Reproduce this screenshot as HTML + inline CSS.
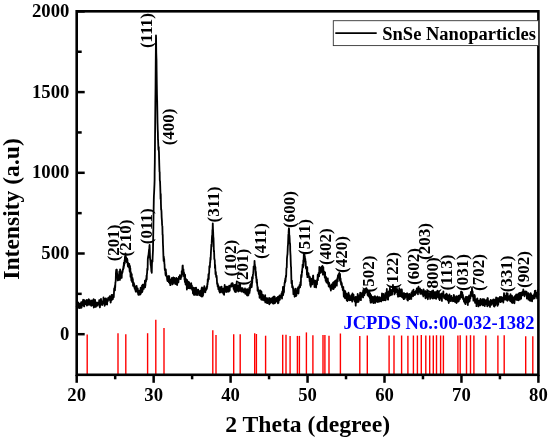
<!DOCTYPE html>
<html><head><meta charset="utf-8"><style>
html,body{margin:0;padding:0;background:#fff;}
body{width:550px;height:439px;overflow:hidden;}
svg{display:block;font-family:"Liberation Serif","Times New Roman",serif;font-weight:bold;}
</style></head><body>
<svg width="550" height="439" viewBox="0 0 550 439">
<rect x="0" y="0" width="550" height="439" fill="#fff"/>
<g stroke="#ff0000" stroke-width="1.4"><line x1="87.2" y1="374.8" x2="87.2" y2="334.5"/><line x1="118" y1="374.8" x2="118" y2="333.2"/><line x1="125.8" y1="374.8" x2="125.8" y2="334.2"/><line x1="147.6" y1="374.8" x2="147.6" y2="333.2"/><line x1="155.8" y1="374.8" x2="155.8" y2="319.8"/><line x1="164" y1="374.8" x2="164" y2="328.1"/><line x1="212.8" y1="374.8" x2="212.8" y2="330.3"/><line x1="216" y1="374.8" x2="216" y2="335.1"/><line x1="233.7" y1="374.8" x2="233.7" y2="334.3"/><line x1="240.2" y1="374.8" x2="240.2" y2="334.3"/><line x1="254.7" y1="374.8" x2="254.7" y2="333.3"/><line x1="256.4" y1="374.8" x2="256.4" y2="334"/><line x1="265.6" y1="374.8" x2="265.6" y2="335.7"/><line x1="282.7" y1="374.8" x2="282.7" y2="334.8"/><line x1="286" y1="374.8" x2="286" y2="334.8"/><line x1="290.1" y1="374.8" x2="290.1" y2="335.9"/><line x1="297.4" y1="374.8" x2="297.4" y2="335.9"/><line x1="299.4" y1="374.8" x2="299.4" y2="335.9"/><line x1="306.4" y1="374.8" x2="306.4" y2="332.4"/><line x1="312.9" y1="374.8" x2="312.9" y2="335.2"/><line x1="323" y1="374.8" x2="323" y2="335"/><line x1="324.9" y1="374.8" x2="324.9" y2="335"/><line x1="329" y1="374.8" x2="329" y2="335.7"/><line x1="340.4" y1="374.8" x2="340.4" y2="333.5"/><line x1="359.8" y1="374.8" x2="359.8" y2="335.9"/><line x1="367.3" y1="374.8" x2="367.3" y2="335.5"/><line x1="389.1" y1="374.8" x2="389.1" y2="335.5"/><line x1="394" y1="374.8" x2="394" y2="335.5"/><line x1="401.6" y1="374.8" x2="401.6" y2="335.5"/><line x1="407.9" y1="374.8" x2="407.9" y2="335.8"/><line x1="413.4" y1="374.8" x2="413.4" y2="335.5"/><line x1="417.4" y1="374.8" x2="417.4" y2="335.5"/><line x1="421.3" y1="374.8" x2="421.3" y2="335"/><line x1="425.8" y1="374.8" x2="425.8" y2="335.5"/><line x1="429.7" y1="374.8" x2="429.7" y2="335.5"/><line x1="433.3" y1="374.8" x2="433.3" y2="335.5"/><line x1="436.5" y1="374.8" x2="436.5" y2="335.2"/><line x1="440.6" y1="374.8" x2="440.6" y2="335.5"/><line x1="443.4" y1="374.8" x2="443.4" y2="335.5"/><line x1="457.9" y1="374.8" x2="457.9" y2="335.5"/><line x1="460.2" y1="374.8" x2="460.2" y2="335.2"/><line x1="466.5" y1="374.8" x2="466.5" y2="335.5"/><line x1="470.5" y1="374.8" x2="470.5" y2="335.2"/><line x1="473.9" y1="374.8" x2="473.9" y2="335.5"/><line x1="485.8" y1="374.8" x2="485.8" y2="335.5"/><line x1="497.9" y1="374.8" x2="497.9" y2="335.5"/><line x1="504.2" y1="374.8" x2="504.2" y2="335.2"/><line x1="525.7" y1="374.8" x2="525.7" y2="336.2"/><line x1="532.8" y1="374.8" x2="532.8" y2="336.2"/></g>
<path d="M76.70,305.99 L76.88,307.47 L77.06,304.53 L77.24,305.91 L77.42,308.36 L77.60,306.73 L77.78,302.84 L77.96,307.83 L78.14,302.68 L78.32,302.52 L78.50,306.57 L78.68,305.81 L78.86,306.46 L79.04,306.58 L79.22,306.85 L79.40,308.08 L79.58,304.94 L79.76,305.36 L79.94,304.62 L80.00,303.59 L80.12,303.83 L80.30,305.86 L80.48,305.40 L80.66,307.84 L80.84,304.93 L81.02,303.44 L81.20,302.07 L81.38,306.58 L81.56,307.73 L81.74,305.49 L81.92,305.92 L82.10,303.39 L82.28,302.61 L82.46,303.40 L82.64,301.48 L82.82,304.79 L83.00,300.44 L83.18,299.76 L83.36,304.38 L83.54,305.97 L83.72,302.53 L83.90,303.92 L84.08,300.21 L84.26,306.38 L84.44,302.32 L84.62,304.49 L84.80,300.51 L84.98,302.44 L85.16,302.27 L85.34,304.24 L85.52,303.01 L85.70,302.84 L85.88,302.81 L86.06,304.05 L86.24,302.44 L86.42,303.74 L86.60,300.88 L86.78,299.94 L86.90,305.48 L86.96,301.71 L87.14,300.84 L87.32,304.09 L87.50,304.85 L87.68,302.53 L87.86,304.84 L88.04,304.35 L88.22,302.26 L88.40,302.36 L88.58,299.58 L88.76,299.20 L88.94,304.69 L89.12,304.53 L89.30,302.60 L89.48,304.09 L89.66,300.05 L89.84,303.53 L90.02,304.96 L90.20,302.62 L90.38,303.30 L90.56,301.57 L90.74,304.64 L90.92,301.31 L91.10,303.77 L91.28,305.83 L91.46,300.73 L91.64,301.14 L91.82,303.60 L92.00,305.52 L92.18,300.28 L92.36,303.68 L92.54,302.25 L92.72,303.79 L92.90,304.73 L93.08,300.60 L93.26,304.42 L93.44,304.07 L93.62,299.24 L93.80,307.49 L93.98,306.20 L94.16,305.18 L94.34,303.70 L94.52,301.44 L94.70,301.95 L94.88,306.87 L95.06,299.82 L95.24,306.59 L95.42,304.59 L95.60,304.63 L95.78,306.10 L95.96,306.82 L96.14,302.37 L96.32,303.12 L96.50,305.84 L96.68,303.04 L96.86,304.29 L97.04,305.41 L97.22,302.62 L97.40,303.16 L97.58,305.56 L97.76,303.00 L97.80,305.72 L97.94,302.77 L98.12,304.66 L98.30,303.34 L98.48,303.94 L98.66,302.57 L98.84,304.15 L99.02,304.05 L99.20,300.06 L99.38,303.82 L99.56,303.58 L99.74,303.85 L99.92,307.42 L100.10,303.92 L100.28,305.81 L100.46,302.60 L100.64,299.36 L100.82,302.74 L101.00,298.81 L101.18,302.20 L101.36,303.78 L101.54,301.82 L101.72,301.24 L101.90,303.63 L102.00,302.89 L102.08,304.12 L102.26,305.05 L102.44,301.24 L102.62,303.69 L102.80,303.85 L102.98,302.96 L103.16,301.20 L103.34,300.17 L103.52,297.42 L103.70,301.20 L103.88,302.35 L104.06,298.57 L104.24,302.30 L104.42,299.99 L104.60,305.74 L104.78,301.81 L104.96,305.24 L105.14,302.16 L105.32,300.32 L105.50,302.70 L105.68,298.43 L105.86,298.44 L106.04,300.16 L106.22,299.97 L106.40,304.07 L106.50,300.46 L106.58,300.82 L106.76,299.25 L106.94,299.36 L107.12,304.55 L107.30,300.51 L107.48,299.51 L107.66,299.43 L107.84,301.26 L108.02,299.33 L108.20,297.83 L108.38,297.65 L108.56,298.58 L108.74,297.82 L108.92,299.49 L109.10,299.10 L109.28,297.42 L109.46,298.67 L109.64,296.99 L109.82,296.24 L110.00,300.19 L110.18,298.09 L110.36,299.63 L110.54,302.15 L110.72,302.54 L110.90,300.32 L111.08,300.74 L111.26,298.88 L111.44,300.44 L111.62,294.96 L111.80,296.13 L111.98,298.03 L112.00,296.07 L112.16,296.80 L112.34,296.88 L112.52,296.71 L112.70,294.99 L112.88,299.24 L113.06,297.38 L113.24,297.52 L113.42,294.56 L113.50,294.39 L113.60,296.87 L113.78,297.10 L113.96,292.99 L114.14,288.62 L114.32,290.08 L114.50,289.24 L114.68,286.99 L114.86,288.03 L115.00,290.32 L115.04,285.16 L115.22,287.50 L115.40,282.30 L115.58,282.28 L115.76,279.69 L115.94,272.99 L116.12,270.88 L116.30,269.60 L116.48,274.14 L116.66,271.60 L116.84,269.63 L117.02,272.81 L117.20,274.41 L117.38,276.17 L117.56,277.26 L117.74,280.46 L117.92,276.58 L118.00,280.24 L118.10,276.24 L118.28,275.84 L118.46,277.08 L118.64,279.85 L118.82,276.66 L119.00,275.40 L119.18,273.68 L119.36,271.33 L119.54,271.35 L119.70,273.49 L119.72,274.77 L119.90,279.93 L120.08,269.38 L120.26,273.88 L120.44,278.52 L120.62,272.58 L120.80,275.24 L120.98,274.08 L121.16,274.91 L121.34,275.18 L121.40,272.41 L121.52,275.95 L121.70,277.88 L121.88,273.16 L122.06,271.52 L122.24,273.28 L122.42,270.58 L122.60,272.12 L122.78,269.70 L122.96,268.99 L123.14,269.63 L123.32,267.69 L123.50,266.00 L123.68,268.10 L123.86,262.68 L124.04,266.09 L124.22,263.34 L124.40,263.61 L124.58,260.21 L124.76,263.53 L124.94,256.74 L125.12,257.54 L125.30,256.03 L125.40,256.50 L125.48,253.44 L125.66,255.89 L125.84,257.35 L126.02,259.63 L126.20,257.37 L126.38,259.89 L126.56,261.63 L126.74,261.97 L126.92,261.44 L127.10,258.61 L127.28,261.55 L127.46,259.79 L127.50,262.00 L127.64,263.60 L127.82,265.28 L128.00,266.64 L128.18,262.90 L128.36,265.11 L128.54,266.82 L128.72,264.16 L128.90,265.57 L129.08,267.96 L129.26,263.80 L129.40,268.00 L129.44,266.01 L129.62,270.83 L129.80,271.73 L129.98,266.02 L130.16,271.48 L130.34,268.32 L130.52,276.80 L130.70,275.46 L130.88,272.03 L131.06,275.35 L131.24,278.75 L131.42,280.78 L131.60,275.99 L131.78,274.23 L131.80,278.02 L131.96,278.33 L132.14,282.00 L132.32,280.15 L132.50,277.79 L132.68,280.01 L132.86,279.39 L133.04,285.77 L133.22,281.88 L133.40,282.25 L133.58,282.52 L133.76,285.04 L133.94,284.38 L134.12,283.88 L134.30,287.11 L134.48,285.59 L134.60,285.46 L134.66,288.65 L134.84,287.72 L135.02,286.59 L135.20,287.61 L135.38,290.11 L135.56,288.46 L135.74,291.65 L135.92,287.68 L136.10,289.17 L136.28,290.26 L136.46,287.59 L136.64,285.98 L136.82,290.28 L137.00,287.98 L137.18,290.19 L137.30,290.17 L137.36,289.88 L137.54,292.52 L137.72,288.38 L137.90,290.39 L138.08,292.58 L138.26,294.80 L138.44,292.94 L138.62,294.32 L138.70,294.06 L138.80,294.84 L138.98,291.05 L139.16,292.78 L139.34,290.71 L139.52,291.89 L139.70,290.82 L139.88,290.47 L140.06,294.69 L140.24,291.63 L140.42,294.24 L140.60,287.76 L140.78,291.92 L140.90,293.52 L140.96,291.99 L141.14,291.31 L141.32,290.38 L141.50,291.85 L141.68,289.39 L141.86,291.63 L142.04,285.38 L142.22,292.06 L142.40,291.37 L142.58,290.30 L142.76,284.72 L142.94,288.55 L143.12,288.63 L143.30,288.02 L143.48,287.17 L143.66,284.65 L143.70,288.85 L143.84,286.73 L144.02,287.94 L144.20,284.26 L144.38,286.59 L144.56,286.46 L144.74,285.88 L144.92,280.55 L145.10,287.34 L145.28,285.54 L145.46,285.25 L145.50,280.15 L145.64,281.72 L145.82,280.89 L146.00,281.66 L146.18,278.75 L146.36,279.81 L146.54,275.59 L146.72,279.50 L146.90,273.98 L147.08,273.29 L147.26,268.66 L147.44,268.67 L147.62,269.88 L147.80,259.19 L147.98,257.68 L148.16,256.28 L148.20,258.00 L148.34,255.41 L148.52,254.83 L148.70,253.09 L148.88,251.29 L149.06,249.43 L149.24,250.54 L149.40,246.50 L149.42,246.29 L149.60,244.92 L149.78,250.23 L149.96,255.43 L150.14,259.22 L150.32,259.92 L150.50,262.00 L150.68,264.92 L150.86,263.33 L151.04,267.09 L151.22,268.67 L151.40,271.37 L151.58,268.51 L151.76,272.75 L151.94,264.78 L152.12,260.13 L152.30,262.00 L152.48,261.60 L152.66,256.49 L152.84,253.31 L153.00,250.00 L153.02,248.90 L153.20,236.46 L153.38,226.95 L153.56,213.11 L153.74,203.65 L153.80,200.00 L153.92,195.78 L154.10,192.85 L154.28,188.66 L154.46,184.45 L154.60,180.00 L154.64,172.51 L154.82,162.25 L155.00,141.19 L155.18,121.44 L155.20,120.00 L155.36,103.36 L155.54,88.22 L155.60,80.00 L155.72,64.84 L155.90,45.63 L156.00,35.50 L156.08,38.55 L156.26,52.64 L156.44,58.28 L156.50,60.00 L156.62,71.14 L156.80,84.29 L156.98,94.87 L157.10,100.00 L157.16,100.44 L157.34,111.11 L157.52,122.78 L157.60,125.00 L157.70,129.26 L157.88,132.65 L158.00,140.00 L158.06,139.28 L158.24,144.23 L158.42,149.65 L158.60,147.63 L158.78,147.03 L158.80,150.00 L158.96,152.29 L159.14,159.60 L159.32,166.04 L159.50,171.76 L159.68,172.03 L159.80,180.00 L159.86,180.79 L160.04,181.13 L160.22,186.07 L160.40,191.41 L160.58,199.04 L160.76,193.93 L160.94,203.72 L161.12,209.60 L161.30,209.67 L161.48,211.47 L161.66,217.21 L161.84,219.69 L162.00,222.00 L162.02,223.74 L162.20,225.63 L162.38,226.34 L162.56,234.82 L162.74,234.66 L162.92,243.09 L163.00,245.00 L163.10,246.64 L163.28,252.23 L163.46,257.14 L163.64,260.93 L163.70,258.70 L163.82,256.68 L164.00,260.80 L164.18,258.88 L164.36,263.36 L164.54,264.38 L164.72,268.60 L164.90,270.02 L165.00,269.60 L165.08,270.63 L165.26,269.95 L165.44,273.67 L165.62,275.23 L165.80,269.46 L165.98,273.49 L166.16,272.82 L166.34,275.65 L166.52,276.62 L166.70,276.54 L166.88,277.14 L167.06,276.95 L167.10,279.11 L167.24,278.95 L167.42,281.04 L167.60,279.93 L167.78,278.18 L167.96,276.34 L168.14,276.06 L168.32,279.33 L168.50,279.86 L168.68,278.06 L168.86,282.28 L169.04,280.00 L169.22,276.24 L169.40,280.61 L169.58,279.23 L169.76,281.81 L169.80,283.60 L169.94,281.51 L170.12,279.92 L170.30,285.10 L170.48,282.39 L170.66,285.02 L170.84,281.36 L171.02,281.12 L171.20,279.08 L171.38,281.37 L171.56,281.90 L171.74,280.07 L171.92,277.78 L172.10,279.43 L172.28,280.77 L172.46,281.24 L172.64,284.41 L172.82,281.84 L173.00,281.38 L173.18,281.47 L173.36,277.29 L173.54,283.03 L173.72,280.54 L173.90,279.71 L174.08,279.48 L174.26,277.91 L174.44,282.33 L174.62,278.57 L174.80,282.70 L174.98,282.06 L175.16,284.04 L175.34,281.55 L175.52,281.57 L175.70,278.30 L175.88,281.98 L176.06,284.02 L176.24,281.13 L176.42,277.98 L176.60,280.17 L176.78,280.26 L176.96,278.75 L177.14,285.00 L177.32,281.56 L177.40,283.35 L177.50,282.12 L177.68,282.53 L177.86,282.55 L178.04,278.90 L178.22,280.81 L178.40,282.47 L178.58,280.04 L178.76,276.98 L178.94,277.22 L179.12,278.47 L179.30,277.64 L179.40,277.38 L179.48,278.03 L179.66,278.95 L179.84,275.21 L180.02,275.69 L180.20,276.89 L180.38,276.42 L180.56,277.47 L180.74,279.17 L180.92,275.80 L181.10,275.11 L181.28,275.40 L181.46,275.90 L181.64,276.76 L181.70,271.10 L181.82,274.78 L182.00,272.36 L182.18,271.93 L182.36,269.44 L182.54,265.77 L182.72,265.53 L182.80,265.50 L182.90,268.50 L183.08,271.11 L183.26,269.79 L183.44,269.36 L183.62,274.78 L183.70,275.98 L183.80,273.23 L183.98,272.49 L184.16,276.79 L184.34,275.27 L184.52,279.82 L184.70,277.59 L184.88,281.92 L185.00,278.10 L185.06,274.71 L185.24,278.58 L185.42,280.96 L185.60,284.49 L185.78,278.60 L185.96,281.13 L186.14,282.15 L186.32,280.93 L186.50,283.26 L186.68,281.25 L186.86,289.51 L187.04,279.88 L187.22,283.03 L187.40,281.74 L187.58,282.46 L187.76,281.65 L187.94,285.46 L188.12,285.10 L188.30,288.17 L188.48,283.95 L188.66,281.60 L188.84,283.82 L189.02,286.13 L189.20,282.74 L189.38,287.65 L189.56,286.12 L189.74,288.38 L189.92,283.91 L190.10,288.22 L190.28,284.80 L190.46,284.06 L190.64,287.63 L190.82,287.15 L191.00,288.34 L191.18,283.19 L191.36,285.54 L191.54,286.83 L191.72,285.73 L191.90,285.45 L192.08,289.82 L192.26,288.26 L192.44,288.97 L192.62,288.06 L192.80,290.76 L192.98,293.38 L193.16,287.56 L193.34,287.65 L193.52,289.34 L193.70,292.10 L193.88,294.78 L194.00,290.32 L194.06,291.23 L194.24,290.36 L194.42,288.81 L194.60,288.46 L194.78,289.19 L194.96,287.96 L195.14,294.73 L195.32,291.41 L195.50,288.19 L195.68,292.43 L195.86,289.71 L196.04,287.63 L196.22,293.39 L196.40,288.93 L196.58,291.45 L196.76,294.65 L196.94,293.62 L197.12,292.15 L197.20,295.12 L197.30,294.23 L197.48,291.13 L197.66,292.60 L197.84,293.17 L198.02,293.75 L198.20,289.56 L198.38,291.18 L198.56,293.36 L198.74,291.75 L198.92,290.74 L199.10,291.18 L199.28,295.20 L199.46,291.70 L199.64,291.80 L199.82,293.26 L200.00,292.76 L200.18,292.37 L200.36,294.33 L200.54,291.29 L200.60,295.87 L200.72,291.48 L200.90,290.46 L201.08,291.07 L201.26,292.07 L201.44,290.52 L201.62,288.21 L201.80,296.49 L201.98,287.50 L202.16,294.46 L202.34,289.38 L202.52,296.40 L202.70,292.30 L202.88,291.44 L203.06,289.53 L203.24,294.89 L203.42,288.00 L203.60,290.72 L203.78,288.90 L203.96,292.22 L204.00,291.95 L204.14,288.98 L204.32,286.09 L204.50,289.98 L204.68,289.06 L204.86,291.14 L205.04,289.83 L205.22,288.58 L205.40,292.31 L205.58,289.53 L205.76,290.36 L205.94,288.75 L206.12,289.40 L206.30,289.69 L206.48,287.51 L206.66,287.01 L206.80,287.86 L206.84,288.92 L207.02,285.95 L207.20,287.23 L207.38,283.51 L207.56,284.39 L207.74,279.20 L207.92,282.11 L208.10,279.48 L208.28,278.87 L208.46,274.21 L208.64,278.15 L208.80,279.43 L208.82,276.18 L209.00,273.75 L209.18,272.53 L209.36,266.07 L209.54,267.75 L209.72,267.70 L209.90,266.73 L210.08,261.99 L210.20,262.80 L210.26,261.12 L210.44,257.54 L210.62,259.94 L210.80,255.27 L210.98,251.22 L211.16,248.56 L211.34,244.63 L211.52,246.71 L211.60,245.00 L211.70,243.39 L211.88,238.64 L212.06,235.61 L212.24,237.46 L212.42,229.65 L212.60,230.56 L212.78,223.33 L212.80,224.00 L212.96,228.68 L213.14,231.66 L213.32,236.76 L213.50,238.04 L213.68,243.90 L213.86,251.84 L214.04,250.59 L214.22,254.84 L214.30,258.70 L214.40,259.16 L214.58,259.61 L214.76,260.28 L214.94,267.97 L215.12,264.83 L215.30,267.80 L215.48,274.00 L215.66,274.55 L215.70,273.47 L215.84,271.94 L216.02,275.32 L216.20,277.05 L216.38,276.97 L216.56,275.67 L216.74,277.35 L216.92,280.53 L217.10,284.03 L217.28,283.08 L217.46,283.35 L217.64,285.96 L217.70,286.57 L217.82,284.11 L218.00,286.85 L218.18,285.59 L218.36,289.24 L218.54,286.19 L218.72,288.67 L218.90,289.78 L219.08,287.28 L219.26,291.30 L219.44,290.09 L219.62,290.60 L219.80,292.72 L219.98,292.22 L220.16,288.93 L220.34,287.04 L220.52,292.14 L220.70,288.46 L220.88,291.75 L221.06,289.54 L221.24,287.95 L221.42,288.69 L221.60,286.74 L221.78,291.70 L221.96,291.62 L222.14,288.46 L222.32,292.52 L222.50,291.06 L222.68,291.44 L222.86,289.51 L223.04,292.71 L223.22,288.99 L223.40,292.53 L223.58,294.07 L223.76,291.13 L223.94,289.95 L224.12,294.76 L224.30,287.33 L224.48,289.58 L224.66,284.98 L224.84,286.50 L225.02,287.44 L225.20,289.18 L225.38,290.20 L225.56,289.20 L225.74,286.98 L225.92,291.10 L226.10,292.12 L226.28,286.59 L226.46,291.24 L226.64,287.89 L226.82,287.87 L227.00,289.71 L227.18,286.61 L227.36,288.72 L227.54,289.22 L227.70,290.99 L227.72,291.67 L227.90,289.18 L228.08,289.42 L228.26,289.06 L228.44,289.74 L228.62,291.71 L228.80,290.99 L228.98,286.48 L229.16,285.76 L229.34,286.71 L229.52,287.92 L229.70,290.79 L229.88,286.15 L230.06,286.56 L230.24,285.41 L230.42,285.99 L230.60,285.40 L230.78,285.34 L230.96,285.16 L231.14,285.72 L231.32,286.66 L231.50,283.52 L231.68,284.21 L231.86,284.55 L232.04,283.77 L232.22,283.42 L232.40,283.95 L232.58,283.22 L232.76,283.76 L232.94,286.19 L233.12,286.87 L233.30,286.23 L233.48,285.87 L233.66,288.90 L233.84,285.75 L234.02,286.32 L234.20,285.97 L234.38,290.48 L234.56,288.35 L234.74,284.95 L234.92,291.65 L235.10,287.26 L235.28,289.55 L235.40,289.23 L235.46,284.54 L235.64,288.25 L235.82,289.42 L236.00,292.07 L236.18,289.08 L236.36,290.86 L236.54,289.97 L236.72,281.71 L236.90,286.80 L237.08,287.04 L237.26,286.81 L237.44,287.97 L237.62,289.22 L237.80,285.91 L237.98,289.08 L238.16,291.50 L238.34,291.37 L238.52,288.93 L238.70,291.44 L238.88,288.87 L239.06,288.38 L239.24,283.11 L239.42,286.94 L239.60,288.61 L239.78,290.30 L239.96,289.98 L240.14,284.34 L240.32,290.78 L240.40,289.30 L240.50,288.56 L240.68,290.73 L240.86,287.98 L241.04,288.67 L241.22,289.99 L241.40,289.13 L241.58,291.69 L241.76,288.07 L241.94,289.65 L242.12,288.99 L242.30,288.74 L242.48,288.08 L242.66,288.51 L242.84,288.65 L243.02,291.35 L243.20,289.37 L243.38,291.91 L243.56,291.89 L243.74,289.88 L243.92,292.45 L244.10,291.07 L244.28,291.15 L244.46,290.13 L244.64,292.03 L244.82,292.13 L245.00,288.44 L245.18,291.79 L245.36,293.93 L245.50,289.29 L245.54,289.56 L245.72,291.56 L245.90,293.61 L246.08,293.22 L246.26,291.61 L246.44,289.41 L246.62,290.89 L246.80,290.84 L246.98,295.23 L247.16,293.52 L247.34,290.59 L247.52,289.23 L247.70,293.58 L247.88,295.66 L248.06,291.77 L248.24,290.91 L248.42,295.22 L248.60,293.98 L248.70,290.82 L248.78,292.88 L248.96,289.88 L249.14,292.45 L249.32,287.69 L249.50,292.91 L249.68,289.18 L249.86,291.10 L250.04,286.64 L250.22,284.92 L250.40,288.26 L250.58,284.98 L250.76,285.57 L250.94,287.03 L251.12,283.15 L251.30,284.10 L251.48,284.93 L251.66,287.12 L251.84,285.06 L251.90,285.16 L252.02,277.29 L252.20,282.92 L252.38,278.70 L252.56,276.43 L252.74,278.69 L252.92,274.45 L253.10,273.97 L253.28,272.77 L253.46,270.70 L253.64,266.40 L253.82,267.91 L254.00,267.35 L254.18,267.12 L254.36,265.97 L254.54,260.88 L254.60,262.00 L254.72,264.69 L254.90,265.79 L255.08,265.94 L255.26,269.20 L255.44,267.11 L255.62,275.25 L255.80,271.34 L255.98,272.86 L256.16,277.91 L256.34,276.67 L256.52,281.64 L256.70,282.86 L256.88,279.42 L257.00,283.73 L257.06,281.92 L257.24,285.72 L257.42,286.37 L257.60,290.67 L257.78,287.10 L257.96,289.15 L258.14,291.28 L258.32,291.41 L258.50,289.81 L258.68,293.10 L258.86,294.05 L259.04,294.01 L259.22,293.61 L259.40,292.32 L259.58,297.78 L259.76,296.93 L259.94,292.65 L260.12,295.27 L260.30,290.39 L260.48,292.40 L260.66,295.05 L260.84,295.77 L261.02,293.60 L261.20,299.36 L261.38,291.50 L261.56,292.64 L261.74,295.90 L261.92,297.93 L262.00,294.52 L262.10,299.89 L262.28,296.30 L262.46,297.64 L262.64,298.19 L262.82,296.42 L263.00,294.95 L263.18,296.62 L263.36,299.86 L263.54,299.96 L263.72,298.09 L263.90,296.67 L264.08,299.56 L264.26,300.58 L264.44,298.67 L264.62,297.39 L264.80,298.85 L264.98,297.50 L265.16,295.16 L265.34,302.45 L265.52,297.64 L265.70,299.19 L265.88,298.98 L266.00,298.00 L266.06,298.49 L266.24,300.64 L266.42,300.26 L266.60,298.84 L266.78,299.16 L266.96,303.03 L267.14,298.07 L267.32,298.95 L267.50,301.41 L267.68,303.21 L267.86,301.72 L268.04,301.38 L268.22,299.56 L268.40,300.51 L268.58,302.05 L268.76,302.11 L268.94,302.77 L269.12,298.02 L269.30,304.34 L269.48,303.50 L269.66,301.02 L269.84,298.45 L270.00,303.31 L270.02,302.92 L270.20,300.54 L270.38,300.11 L270.56,302.26 L270.74,301.79 L270.92,298.61 L271.10,299.34 L271.28,302.56 L271.46,298.54 L271.64,302.46 L271.82,302.05 L272.00,301.72 L272.18,297.95 L272.36,299.58 L272.54,299.30 L272.72,297.28 L272.90,303.42 L273.08,302.52 L273.26,299.71 L273.44,296.88 L273.62,303.68 L273.80,296.64 L273.98,299.62 L274.16,296.67 L274.34,299.49 L274.52,301.62 L274.70,296.77 L274.88,303.18 L275.00,298.50 L275.06,301.38 L275.24,302.50 L275.42,300.63 L275.60,299.11 L275.78,298.62 L275.96,298.44 L276.14,298.29 L276.32,299.48 L276.50,298.73 L276.68,298.00 L276.86,299.11 L277.04,301.70 L277.22,301.63 L277.40,297.67 L277.58,299.79 L277.76,296.91 L277.94,303.33 L278.12,298.69 L278.30,296.59 L278.48,302.78 L278.66,296.82 L278.84,301.05 L279.00,298.20 L279.02,297.34 L279.20,297.07 L279.38,297.36 L279.56,295.47 L279.74,299.61 L279.92,299.74 L280.10,295.69 L280.28,296.93 L280.46,296.76 L280.64,295.81 L280.82,297.18 L281.00,296.82 L281.18,294.97 L281.36,295.20 L281.54,293.29 L281.72,294.03 L281.90,296.36 L282.00,298.58 L282.08,292.95 L282.26,291.30 L282.44,293.15 L282.62,291.77 L282.80,291.50 L282.98,286.91 L283.16,295.30 L283.34,292.74 L283.52,291.45 L283.70,291.94 L283.88,289.46 L284.00,292.40 L284.06,287.95 L284.24,286.55 L284.42,285.82 L284.60,282.65 L284.78,282.78 L284.96,280.49 L285.14,282.81 L285.32,278.51 L285.50,281.34 L285.68,278.45 L285.86,276.00 L286.00,275.31 L286.04,277.24 L286.22,274.93 L286.40,268.43 L286.58,267.81 L286.76,267.45 L286.94,258.95 L287.12,256.95 L287.30,255.27 L287.48,254.26 L287.66,250.40 L287.84,245.79 L288.02,244.54 L288.20,240.00 L288.38,234.65 L288.56,233.88 L288.74,229.97 L288.90,228.80 L288.92,228.05 L289.10,228.98 L289.28,236.79 L289.46,235.51 L289.64,238.49 L289.82,243.76 L290.00,243.18 L290.18,246.04 L290.20,250.00 L290.36,252.71 L290.54,255.54 L290.72,261.13 L290.90,266.29 L291.08,267.11 L291.26,274.81 L291.44,281.50 L291.50,283.29 L291.62,281.10 L291.80,282.94 L291.98,280.63 L292.16,287.25 L292.34,287.13 L292.52,286.91 L292.70,286.14 L292.88,288.18 L293.06,287.81 L293.24,290.91 L293.42,294.19 L293.60,291.30 L293.78,290.70 L293.96,290.93 L294.14,292.38 L294.32,290.03 L294.50,295.45 L294.60,296.75 L294.68,294.37 L294.86,290.72 L295.04,293.11 L295.22,288.69 L295.40,292.50 L295.58,293.05 L295.76,290.91 L295.94,291.02 L296.12,296.01 L296.30,292.38 L296.48,295.33 L296.50,292.37 L296.66,292.28 L296.84,293.30 L297.02,293.32 L297.20,288.68 L297.38,292.84 L297.56,290.21 L297.74,290.74 L297.92,291.66 L298.10,287.61 L298.28,287.08 L298.46,293.48 L298.64,291.11 L298.82,287.42 L299.00,287.45 L299.18,288.05 L299.36,286.12 L299.54,285.13 L299.72,284.87 L299.90,284.85 L300.08,287.46 L300.26,284.99 L300.44,282.11 L300.62,281.97 L300.80,285.22 L300.98,279.63 L301.00,277.54 L301.16,274.84 L301.34,277.49 L301.52,276.89 L301.70,275.71 L301.88,271.46 L302.06,272.77 L302.24,269.20 L302.42,268.08 L302.50,268.00 L302.60,264.60 L302.78,264.58 L302.96,266.15 L303.14,267.34 L303.32,260.37 L303.50,262.14 L303.68,258.16 L303.86,253.20 L304.04,258.16 L304.20,255.00 L304.22,258.96 L304.40,252.87 L304.58,256.80 L304.76,256.01 L304.94,258.14 L305.12,261.38 L305.30,258.85 L305.40,264.00 L305.48,265.79 L305.66,261.17 L305.84,266.59 L306.02,268.62 L306.20,268.22 L306.38,267.03 L306.56,267.14 L306.74,267.38 L306.92,274.80 L307.10,271.11 L307.28,267.22 L307.40,277.15 L307.46,272.42 L307.64,272.41 L307.82,272.77 L308.00,274.70 L308.18,274.74 L308.36,274.51 L308.54,273.51 L308.72,276.18 L308.90,276.11 L309.08,277.21 L309.26,278.19 L309.44,276.43 L309.62,281.23 L309.80,276.78 L309.98,277.50 L310.16,284.08 L310.34,285.35 L310.50,279.60 L310.52,279.56 L310.70,286.85 L310.88,285.04 L311.06,284.62 L311.24,282.36 L311.42,284.89 L311.60,284.51 L311.78,278.59 L311.96,279.22 L312.14,283.25 L312.32,281.37 L312.50,284.30 L312.68,278.38 L312.86,282.71 L313.00,275.74 L313.04,281.41 L313.22,275.76 L313.40,282.41 L313.58,280.70 L313.76,282.40 L313.94,281.51 L314.12,283.14 L314.30,280.32 L314.48,287.10 L314.66,285.36 L314.84,286.92 L315.02,284.09 L315.20,280.78 L315.38,280.76 L315.56,285.78 L315.60,283.70 L315.74,283.68 L315.92,285.27 L316.10,287.53 L316.28,283.63 L316.46,281.13 L316.64,281.24 L316.82,281.08 L317.00,284.34 L317.18,279.49 L317.36,279.51 L317.54,278.50 L317.72,274.70 L317.90,280.16 L318.08,276.17 L318.26,274.88 L318.44,274.02 L318.62,273.00 L318.80,274.04 L318.98,272.72 L319.16,276.23 L319.34,266.91 L319.52,272.83 L319.70,273.01 L319.88,268.48 L320.06,271.28 L320.24,270.07 L320.42,272.85 L320.60,267.79 L320.70,267.70 L320.78,269.05 L320.96,270.38 L321.14,268.98 L321.32,268.42 L321.50,269.09 L321.68,266.70 L321.86,268.71 L322.04,271.89 L322.22,267.66 L322.40,265.78 L322.58,273.06 L322.76,269.77 L322.94,274.61 L323.12,270.47 L323.30,267.10 L323.48,271.74 L323.66,273.88 L323.84,272.04 L324.02,271.39 L324.20,271.84 L324.38,273.25 L324.56,273.40 L324.74,277.35 L324.92,276.75 L325.10,272.28 L325.28,278.20 L325.46,276.88 L325.64,280.80 L325.80,279.56 L325.82,278.19 L326.00,276.85 L326.18,277.22 L326.36,281.30 L326.54,282.56 L326.72,281.19 L326.90,281.13 L327.08,282.23 L327.26,280.26 L327.44,280.22 L327.62,279.10 L327.80,278.41 L327.98,283.74 L328.16,281.12 L328.30,281.65 L328.34,284.40 L328.52,282.37 L328.70,286.37 L328.88,282.93 L329.06,284.43 L329.24,282.93 L329.42,286.78 L329.60,285.05 L329.78,287.08 L329.96,286.76 L330.14,285.84 L330.32,287.34 L330.50,289.08 L330.68,286.67 L330.86,290.53 L330.90,287.65 L331.04,285.76 L331.22,287.94 L331.40,288.95 L331.58,284.32 L331.76,287.95 L331.94,287.42 L332.12,285.95 L332.30,288.37 L332.48,284.68 L332.66,287.32 L332.84,286.17 L333.02,282.77 L333.20,289.19 L333.38,288.81 L333.40,288.41 L333.56,282.14 L333.74,288.78 L333.92,285.08 L334.10,283.19 L334.28,284.89 L334.46,285.39 L334.64,285.18 L334.82,281.07 L335.00,287.44 L335.18,285.60 L335.36,283.64 L335.54,280.71 L335.72,282.44 L335.90,280.47 L336.08,280.10 L336.26,283.41 L336.44,282.59 L336.62,280.71 L336.80,285.62 L336.98,281.15 L337.16,280.04 L337.30,281.82 L337.34,278.18 L337.52,279.51 L337.70,281.46 L337.88,275.77 L338.06,278.03 L338.24,277.86 L338.42,274.37 L338.60,276.54 L338.78,275.84 L338.96,273.54 L339.14,275.85 L339.20,274.55 L339.32,272.98 L339.50,274.80 L339.68,275.59 L339.86,280.34 L340.04,273.80 L340.22,280.41 L340.40,281.99 L340.58,278.44 L340.76,281.46 L340.94,282.71 L341.00,283.73 L341.12,284.63 L341.30,284.83 L341.48,282.32 L341.66,284.76 L341.84,283.55 L342.02,287.07 L342.20,287.50 L342.38,287.19 L342.56,286.32 L342.74,289.97 L342.92,289.15 L343.10,290.48 L343.28,286.82 L343.46,291.19 L343.60,290.31 L343.64,293.12 L343.82,296.69 L344.00,294.28 L344.18,292.48 L344.36,291.27 L344.54,290.69 L344.72,294.20 L344.90,297.54 L345.08,298.35 L345.26,291.10 L345.44,293.95 L345.62,296.45 L345.80,295.69 L345.98,294.75 L346.16,293.33 L346.34,294.17 L346.52,295.28 L346.70,300.27 L346.88,296.77 L347.06,296.32 L347.24,294.10 L347.40,300.99 L347.42,295.91 L347.60,298.93 L347.78,298.59 L347.96,300.28 L348.14,296.30 L348.32,296.84 L348.50,292.75 L348.68,295.98 L348.86,293.99 L349.04,299.24 L349.22,297.15 L349.40,295.49 L349.58,300.28 L349.76,297.53 L349.94,297.40 L350.10,298.45 L350.12,297.18 L350.30,300.01 L350.48,297.03 L350.66,297.34 L350.84,297.08 L351.02,300.13 L351.20,297.31 L351.38,295.25 L351.56,298.25 L351.74,298.17 L351.92,298.59 L352.10,301.02 L352.28,301.69 L352.46,293.47 L352.64,299.90 L352.82,299.58 L353.00,298.26 L353.18,299.45 L353.36,299.57 L353.54,294.67 L353.72,299.20 L353.90,298.90 L354.08,297.85 L354.26,298.94 L354.44,298.90 L354.62,299.80 L354.80,301.69 L354.98,298.97 L355.16,300.07 L355.20,301.40 L355.34,300.98 L355.52,296.83 L355.70,305.66 L355.88,298.20 L356.06,297.21 L356.24,297.03 L356.42,298.19 L356.60,297.09 L356.78,300.62 L356.96,302.25 L357.14,300.29 L357.32,300.58 L357.50,297.59 L357.68,293.89 L357.86,294.19 L358.04,299.05 L358.22,295.99 L358.40,301.88 L358.58,301.36 L358.76,300.89 L358.94,298.11 L359.12,296.07 L359.30,297.45 L359.48,299.53 L359.66,296.67 L359.84,295.18 L360.02,295.12 L360.20,292.68 L360.30,299.48 L360.38,298.42 L360.56,293.54 L360.74,297.25 L360.92,300.18 L361.10,294.81 L361.28,295.50 L361.46,296.70 L361.64,295.78 L361.82,296.59 L362.00,294.33 L362.18,292.71 L362.36,294.18 L362.54,296.43 L362.72,294.84 L362.90,294.90 L363.08,297.46 L363.26,290.06 L363.44,295.80 L363.62,290.59 L363.80,292.65 L363.98,292.25 L364.10,289.82 L364.16,291.23 L364.34,295.31 L364.52,291.43 L364.70,293.63 L364.88,293.61 L365.06,288.99 L365.24,290.29 L365.42,289.05 L365.60,292.76 L365.78,289.73 L365.96,288.50 L366.14,288.69 L366.32,288.15 L366.50,289.61 L366.60,289.32 L366.68,289.81 L366.86,291.01 L367.04,289.08 L367.22,289.89 L367.40,292.11 L367.58,295.07 L367.60,292.23 L367.76,293.82 L367.94,295.11 L368.12,295.90 L368.30,292.10 L368.48,291.72 L368.66,293.40 L368.84,292.99 L369.02,296.62 L369.20,292.34 L369.38,291.77 L369.56,295.79 L369.74,297.38 L369.92,298.42 L370.10,293.38 L370.28,301.10 L370.46,296.20 L370.64,302.70 L370.82,297.76 L371.00,299.36 L371.18,295.17 L371.36,302.48 L371.54,300.97 L371.72,297.99 L371.90,299.54 L372.08,297.56 L372.26,296.80 L372.44,299.84 L372.62,299.10 L372.80,301.32 L372.98,298.82 L373.16,302.28 L373.34,303.20 L373.52,300.59 L373.70,301.14 L373.88,299.14 L374.06,296.57 L374.24,298.80 L374.42,300.20 L374.60,298.99 L374.78,302.72 L374.96,299.41 L375.00,296.26 L375.14,302.89 L375.32,297.11 L375.50,302.16 L375.68,301.57 L375.86,298.05 L376.04,300.66 L376.22,299.13 L376.40,297.70 L376.58,300.91 L376.76,297.85 L376.94,298.66 L377.12,301.55 L377.30,296.62 L377.48,297.92 L377.66,296.52 L377.84,302.08 L378.02,297.44 L378.20,300.13 L378.38,298.59 L378.56,298.07 L378.74,298.21 L378.92,299.93 L379.10,297.75 L379.28,301.64 L379.46,300.78 L379.64,297.10 L379.82,301.43 L380.00,298.92 L380.18,299.11 L380.36,298.82 L380.54,299.58 L380.72,299.06 L380.90,298.29 L381.08,299.23 L381.26,301.53 L381.44,297.44 L381.62,298.09 L381.80,300.58 L381.98,293.48 L382.16,296.47 L382.34,298.47 L382.52,298.07 L382.70,295.84 L382.88,297.21 L383.06,297.63 L383.24,300.05 L383.42,293.92 L383.60,300.33 L383.78,299.23 L383.96,296.92 L384.14,295.31 L384.32,298.88 L384.50,299.99 L384.68,297.85 L384.86,295.63 L385.00,297.62 L385.04,296.70 L385.22,296.19 L385.40,293.26 L385.58,300.31 L385.76,295.80 L385.94,297.28 L386.12,297.35 L386.30,295.82 L386.48,295.59 L386.66,292.41 L386.84,288.99 L387.02,295.84 L387.20,296.35 L387.38,293.78 L387.56,299.10 L387.74,294.82 L387.92,295.57 L388.10,299.71 L388.28,291.90 L388.46,295.02 L388.50,296.98 L388.64,296.07 L388.82,294.18 L389.00,291.07 L389.18,293.91 L389.36,295.84 L389.54,292.66 L389.72,290.74 L389.90,287.87 L390.08,292.07 L390.26,295.42 L390.44,293.26 L390.62,292.74 L390.80,293.36 L390.98,291.90 L391.16,289.92 L391.34,293.12 L391.52,294.88 L391.70,290.06 L391.88,292.41 L392.00,290.57 L392.06,294.66 L392.24,291.24 L392.42,290.61 L392.60,290.73 L392.78,290.19 L392.96,284.90 L393.14,291.19 L393.32,290.61 L393.50,287.89 L393.68,290.55 L393.86,291.13 L394.00,290.41 L394.04,290.52 L394.22,291.41 L394.40,294.45 L394.58,290.38 L394.76,292.91 L394.94,293.39 L395.12,287.16 L395.30,291.34 L395.48,292.18 L395.66,292.05 L395.84,289.37 L396.02,290.97 L396.20,291.30 L396.38,289.36 L396.56,291.06 L396.74,290.12 L396.92,288.65 L397.00,292.33 L397.10,292.23 L397.28,289.53 L397.46,294.57 L397.64,293.75 L397.82,292.79 L398.00,296.62 L398.18,292.24 L398.36,294.20 L398.54,290.90 L398.72,291.67 L398.90,295.42 L399.08,293.32 L399.26,288.19 L399.44,296.29 L399.62,293.32 L399.80,295.77 L399.98,293.19 L400.00,292.59 L400.16,295.52 L400.34,296.04 L400.52,291.64 L400.70,291.86 L400.88,296.17 L401.06,289.48 L401.24,296.26 L401.42,293.14 L401.60,296.95 L401.78,289.35 L401.96,291.06 L402.14,296.06 L402.32,294.17 L402.50,294.14 L402.68,293.93 L402.86,297.82 L403.04,294.25 L403.22,295.38 L403.40,295.04 L403.58,295.65 L403.76,299.15 L403.94,292.96 L404.12,293.43 L404.30,293.39 L404.48,298.02 L404.66,293.68 L404.84,298.49 L405.00,295.11 L405.02,297.55 L405.20,295.52 L405.38,296.93 L405.56,295.90 L405.74,294.00 L405.92,294.21 L406.10,296.90 L406.28,296.57 L406.46,295.98 L406.64,293.87 L406.82,293.37 L407.00,295.27 L407.18,299.68 L407.36,293.34 L407.54,296.45 L407.72,298.55 L407.90,300.67 L408.08,296.34 L408.26,296.05 L408.44,297.91 L408.62,297.80 L408.80,297.61 L408.98,294.06 L409.16,294.10 L409.34,297.46 L409.52,294.02 L409.70,299.14 L409.88,297.62 L410.00,296.98 L410.06,297.81 L410.24,296.34 L410.42,298.15 L410.60,294.94 L410.78,298.29 L410.96,296.01 L411.14,294.08 L411.32,298.89 L411.50,292.54 L411.68,295.98 L411.86,295.17 L412.04,295.53 L412.22,291.15 L412.40,294.88 L412.58,294.99 L412.76,293.48 L412.94,295.62 L413.12,296.23 L413.30,295.73 L413.48,289.56 L413.66,294.22 L413.84,294.85 L414.00,293.98 L414.02,293.61 L414.20,295.14 L414.38,291.78 L414.56,293.15 L414.74,294.60 L414.92,291.85 L415.10,294.82 L415.28,293.22 L415.46,294.05 L415.64,293.42 L415.82,292.14 L416.00,290.71 L416.18,292.92 L416.36,292.37 L416.54,290.62 L416.72,288.95 L416.90,288.42 L417.08,288.18 L417.26,290.45 L417.44,290.02 L417.62,289.77 L417.80,289.23 L417.98,294.34 L418.00,288.85 L418.16,290.01 L418.34,289.92 L418.52,286.69 L418.70,291.74 L418.88,291.57 L419.06,289.35 L419.24,291.34 L419.42,291.25 L419.60,290.47 L419.78,291.41 L419.96,291.33 L420.00,288.51 L420.14,292.37 L420.32,293.77 L420.50,291.04 L420.68,293.73 L420.86,291.72 L421.04,291.64 L421.22,292.13 L421.40,292.17 L421.58,289.83 L421.76,293.11 L421.94,292.53 L422.12,293.57 L422.30,294.23 L422.48,294.58 L422.66,294.20 L422.84,293.43 L423.02,291.05 L423.20,293.70 L423.38,296.39 L423.56,289.42 L423.74,292.83 L423.92,293.82 L424.10,295.19 L424.28,293.82 L424.46,295.16 L424.64,292.30 L424.82,294.93 L425.00,291.27 L425.18,294.17 L425.36,297.04 L425.54,298.28 L425.72,291.17 L425.90,296.35 L426.08,292.76 L426.26,294.33 L426.44,295.90 L426.62,294.14 L426.80,293.84 L426.98,291.65 L427.16,297.69 L427.34,295.04 L427.52,290.36 L427.70,292.41 L427.88,299.26 L428.06,297.38 L428.24,294.52 L428.42,294.99 L428.60,293.16 L428.78,293.23 L428.96,295.26 L429.14,295.95 L429.32,294.62 L429.50,293.20 L429.68,293.48 L429.86,294.22 L430.00,297.68 L430.04,294.06 L430.22,298.88 L430.40,295.93 L430.58,293.59 L430.76,294.91 L430.94,298.03 L431.12,292.75 L431.30,293.76 L431.48,294.94 L431.66,294.71 L431.84,291.07 L432.02,292.76 L432.20,295.27 L432.38,295.56 L432.56,297.05 L432.74,296.55 L432.92,298.64 L433.10,290.36 L433.28,296.94 L433.46,295.63 L433.64,294.98 L433.82,297.76 L434.00,296.69 L434.18,296.20 L434.36,293.74 L434.54,293.78 L434.72,295.73 L434.90,294.18 L435.00,298.31 L435.08,294.89 L435.26,295.30 L435.44,294.15 L435.62,297.05 L435.80,292.56 L435.98,297.13 L436.16,298.93 L436.34,296.10 L436.52,296.88 L436.70,296.85 L436.88,297.00 L437.06,295.01 L437.24,294.89 L437.42,290.53 L437.60,295.34 L437.78,294.04 L437.96,293.64 L438.00,296.49 L438.14,297.69 L438.32,296.85 L438.50,297.30 L438.68,295.07 L438.86,291.77 L439.04,294.93 L439.22,299.17 L439.40,296.82 L439.58,296.65 L439.76,300.08 L439.94,294.68 L440.12,298.16 L440.30,298.08 L440.48,295.98 L440.66,294.13 L440.84,298.36 L441.02,297.45 L441.20,295.95 L441.38,295.44 L441.56,295.91 L441.74,293.41 L441.92,300.97 L442.00,294.75 L442.10,294.09 L442.28,295.56 L442.46,296.71 L442.64,296.49 L442.82,296.05 L443.00,295.53 L443.18,296.10 L443.36,291.38 L443.54,296.69 L443.72,295.61 L443.90,296.09 L444.08,298.19 L444.26,296.93 L444.44,295.64 L444.62,296.69 L444.80,297.29 L444.98,297.25 L445.16,295.73 L445.34,298.98 L445.52,294.64 L445.70,298.59 L445.88,294.63 L446.06,299.53 L446.24,299.41 L446.42,296.17 L446.60,293.67 L446.78,297.61 L446.96,294.31 L447.14,298.24 L447.32,298.27 L447.50,295.24 L447.68,296.87 L447.86,300.56 L448.04,295.45 L448.22,297.19 L448.40,299.88 L448.58,299.24 L448.76,303.00 L448.94,301.26 L449.12,296.57 L449.30,300.85 L449.48,294.46 L449.66,299.50 L449.84,297.55 L450.00,299.57 L450.02,298.10 L450.20,299.80 L450.38,297.36 L450.56,299.83 L450.74,298.30 L450.92,301.20 L451.10,296.47 L451.28,295.86 L451.46,299.89 L451.64,298.65 L451.82,299.69 L452.00,299.52 L452.18,298.90 L452.36,298.51 L452.54,299.19 L452.72,298.34 L452.90,301.32 L453.08,301.21 L453.26,297.52 L453.44,300.98 L453.62,296.48 L453.80,294.87 L453.98,295.18 L454.16,299.01 L454.34,299.41 L454.52,299.97 L454.70,301.75 L454.88,301.25 L455.06,297.15 L455.24,298.98 L455.42,299.20 L455.60,300.07 L455.78,300.93 L455.96,302.28 L456.14,301.56 L456.32,296.26 L456.50,303.01 L456.68,298.96 L456.86,298.88 L457.00,301.90 L457.04,299.34 L457.22,299.32 L457.40,298.87 L457.58,296.30 L457.76,301.49 L457.94,301.59 L458.12,298.89 L458.30,297.82 L458.48,297.99 L458.66,301.29 L458.84,295.70 L459.02,298.30 L459.20,299.84 L459.38,295.84 L459.56,299.13 L459.74,296.88 L459.92,299.13 L460.00,297.18 L460.10,296.87 L460.28,296.28 L460.46,294.38 L460.64,296.63 L460.82,297.38 L461.00,291.76 L461.18,292.41 L461.36,293.21 L461.54,291.60 L461.60,297.40 L461.72,294.94 L461.90,297.20 L462.08,296.06 L462.26,292.36 L462.44,296.41 L462.62,296.43 L462.80,295.37 L462.98,295.09 L463.00,298.99 L463.16,297.91 L463.34,298.85 L463.52,297.03 L463.70,298.55 L463.88,301.14 L464.06,298.75 L464.24,300.28 L464.42,302.24 L464.60,302.77 L464.78,301.64 L464.96,299.26 L465.00,302.27 L465.14,299.63 L465.32,301.14 L465.50,304.21 L465.68,300.38 L465.86,297.04 L466.04,296.74 L466.22,299.16 L466.40,302.24 L466.58,300.78 L466.76,299.26 L466.94,300.19 L467.12,296.83 L467.30,301.69 L467.48,298.35 L467.66,302.31 L467.84,305.05 L468.02,297.42 L468.20,302.35 L468.38,296.93 L468.56,298.87 L468.74,298.85 L468.92,296.89 L469.10,295.43 L469.28,301.56 L469.46,296.27 L469.64,301.23 L469.82,299.20 L470.00,297.98 L470.18,298.36 L470.36,298.33 L470.54,296.54 L470.72,293.39 L470.90,291.96 L471.08,294.52 L471.26,294.43 L471.44,295.85 L471.62,294.35 L471.80,295.29 L471.98,287.75 L472.16,294.01 L472.34,293.11 L472.50,292.79 L472.52,291.25 L472.70,292.21 L472.88,296.76 L473.06,294.90 L473.24,296.31 L473.42,300.66 L473.60,297.37 L473.78,298.46 L473.96,297.82 L474.00,297.31 L474.14,300.36 L474.32,299.04 L474.50,294.98 L474.68,300.49 L474.86,295.79 L475.04,302.84 L475.22,299.23 L475.40,300.18 L475.58,300.85 L475.76,301.08 L475.94,301.38 L476.00,301.68 L476.12,300.45 L476.30,299.46 L476.48,306.15 L476.66,300.52 L476.84,301.00 L477.02,303.58 L477.20,302.74 L477.38,298.44 L477.56,301.19 L477.74,300.25 L477.92,300.99 L478.10,301.16 L478.28,301.22 L478.46,306.35 L478.64,302.01 L478.82,300.85 L479.00,304.22 L479.18,300.55 L479.36,304.99 L479.54,303.86 L479.72,305.13 L479.90,304.74 L480.08,301.97 L480.26,305.36 L480.44,298.95 L480.62,302.29 L480.80,301.84 L480.98,304.09 L481.16,304.33 L481.34,302.21 L481.52,302.37 L481.70,300.07 L481.88,304.44 L482.00,301.60 L482.06,304.15 L482.24,304.69 L482.42,299.13 L482.60,301.48 L482.78,301.24 L482.96,305.42 L483.14,305.41 L483.32,304.07 L483.50,299.04 L483.68,299.92 L483.86,303.81 L484.04,300.04 L484.22,302.50 L484.40,299.48 L484.58,304.60 L484.76,306.11 L484.94,302.63 L485.12,303.91 L485.30,304.08 L485.48,302.35 L485.66,300.31 L485.84,304.27 L486.02,300.45 L486.20,303.54 L486.38,300.25 L486.56,304.36 L486.74,302.93 L486.92,303.88 L487.10,300.68 L487.28,306.25 L487.46,298.04 L487.64,303.33 L487.82,298.05 L488.00,302.54 L488.18,304.07 L488.36,303.56 L488.54,300.83 L488.72,302.48 L488.90,303.97 L489.08,305.57 L489.26,304.61 L489.44,301.89 L489.62,305.35 L489.80,301.33 L489.98,304.12 L490.00,306.90 L490.16,302.98 L490.34,303.68 L490.52,301.78 L490.70,299.87 L490.88,304.60 L491.06,303.45 L491.24,302.47 L491.42,303.35 L491.60,303.29 L491.78,304.82 L491.96,303.18 L492.14,302.19 L492.32,301.46 L492.50,300.04 L492.68,301.04 L492.86,302.00 L493.04,303.43 L493.22,301.44 L493.40,299.40 L493.58,300.52 L493.76,299.95 L493.94,306.34 L494.12,302.01 L494.30,303.26 L494.48,306.53 L494.66,300.27 L494.84,301.42 L495.02,301.11 L495.20,299.35 L495.38,305.38 L495.56,302.66 L495.74,302.98 L495.92,303.27 L496.00,304.00 L496.10,297.47 L496.28,303.20 L496.46,302.02 L496.64,301.66 L496.82,302.25 L497.00,297.87 L497.18,300.98 L497.36,301.58 L497.54,305.82 L497.72,300.85 L497.90,301.08 L498.08,304.66 L498.26,304.10 L498.44,302.68 L498.62,298.14 L498.80,301.95 L498.98,301.74 L499.16,300.42 L499.34,298.74 L499.52,299.46 L499.70,300.43 L499.88,296.85 L500.00,301.11 L500.06,300.61 L500.24,301.07 L500.42,302.11 L500.60,299.96 L500.78,302.15 L500.96,298.95 L501.14,296.89 L501.32,297.97 L501.50,299.08 L501.68,301.41 L501.86,297.68 L502.04,299.50 L502.22,299.58 L502.40,299.62 L502.58,298.25 L502.76,299.59 L502.94,301.24 L503.12,297.10 L503.30,302.59 L503.48,299.52 L503.66,299.72 L503.84,296.96 L504.02,293.03 L504.20,297.27 L504.38,298.03 L504.56,295.53 L504.74,299.70 L504.92,296.12 L505.00,298.58 L505.10,295.70 L505.28,297.70 L505.46,297.07 L505.64,298.19 L505.82,297.45 L506.00,298.43 L506.18,296.43 L506.36,299.92 L506.54,293.11 L506.72,295.82 L506.90,298.41 L507.08,293.89 L507.26,298.59 L507.44,300.82 L507.62,293.39 L507.80,295.64 L507.98,298.19 L508.16,298.26 L508.34,299.61 L508.52,298.51 L508.70,296.28 L508.88,298.81 L509.06,299.95 L509.24,296.47 L509.42,298.57 L509.60,297.93 L509.78,297.09 L509.96,295.55 L510.00,297.68 L510.14,298.76 L510.32,301.20 L510.50,294.20 L510.68,296.05 L510.86,300.58 L511.04,296.18 L511.22,299.79 L511.40,297.56 L511.58,302.16 L511.76,298.23 L511.94,295.68 L512.12,296.97 L512.30,302.98 L512.48,300.45 L512.66,297.44 L512.84,300.32 L513.02,298.90 L513.20,302.59 L513.38,297.33 L513.56,300.85 L513.74,297.91 L513.92,298.57 L514.10,300.03 L514.28,297.21 L514.46,303.29 L514.64,300.08 L514.82,296.27 L515.00,299.87 L515.18,299.75 L515.36,296.94 L515.54,297.85 L515.72,297.95 L515.90,295.07 L516.08,299.27 L516.26,294.46 L516.44,294.54 L516.62,297.89 L516.80,298.32 L516.98,300.16 L517.16,299.31 L517.34,297.88 L517.52,296.42 L517.70,295.75 L517.88,295.72 L518.06,295.40 L518.24,293.96 L518.42,300.23 L518.60,295.79 L518.78,295.94 L518.96,297.67 L519.00,296.18 L519.14,296.56 L519.32,292.90 L519.50,294.56 L519.68,299.66 L519.86,299.56 L520.04,294.87 L520.22,294.72 L520.40,292.97 L520.58,292.79 L520.76,294.80 L520.94,295.83 L521.12,298.61 L521.30,292.55 L521.48,292.63 L521.66,296.02 L521.84,293.48 L522.02,292.11 L522.20,293.34 L522.38,292.44 L522.56,295.15 L522.74,292.26 L522.92,293.76 L523.00,291.07 L523.10,293.73 L523.28,289.50 L523.46,294.23 L523.64,294.71 L523.82,293.66 L524.00,292.44 L524.18,291.50 L524.36,295.02 L524.54,296.32 L524.72,293.19 L524.90,293.10 L525.08,292.31 L525.26,294.03 L525.44,291.47 L525.62,294.60 L525.80,293.31 L525.98,292.22 L526.16,293.30 L526.34,294.05 L526.52,291.70 L526.70,293.49 L526.88,298.59 L527.00,294.30 L527.06,294.63 L527.24,294.76 L527.42,294.95 L527.60,293.68 L527.78,293.79 L527.96,293.24 L528.14,294.53 L528.32,293.24 L528.50,299.62 L528.68,294.59 L528.86,298.90 L529.04,296.26 L529.22,295.09 L529.40,294.47 L529.58,297.46 L529.76,300.50 L529.94,295.98 L530.12,296.18 L530.30,294.58 L530.48,300.79 L530.66,293.12 L530.84,294.08 L531.02,294.02 L531.20,299.22 L531.38,297.05 L531.56,298.39 L531.74,295.71 L531.92,298.24 L532.00,295.38 L532.10,301.29 L532.28,298.05 L532.46,298.63 L532.64,298.41 L532.82,299.21 L533.00,297.60 L533.18,295.86 L533.36,296.00 L533.54,298.45 L533.72,295.12 L533.90,296.40 L534.08,296.39 L534.26,293.84 L534.44,294.02 L534.62,298.39 L534.80,290.97 L534.98,293.11 L535.16,294.21 L535.34,293.70 L535.52,290.65 L535.70,295.00 L535.88,294.76 L536.00,293.05 L536.06,292.81 L536.24,296.62 L536.42,296.59 L536.60,295.88 L536.78,292.88 L536.96,293.32 L537.14,298.40 L537.32,297.27 L537.50,296.22 L537.68,292.16 L537.86,297.43 L538.04,289.60 L538.22,295.14 L538.40,293.54" fill="none" stroke="#000" stroke-width="1.8" stroke-linejoin="round"/>
<g font-size="17" fill="#000" text-anchor="middle"><text transform="translate(118.7,242.9) rotate(-90)">(201)</text><text transform="translate(131.2,238) rotate(-90)">(210)</text><text transform="translate(151.9,226.3) rotate(-90)">(011)</text><text transform="translate(151.9,30.6) rotate(-90)">(111)</text><text transform="translate(174.3,126.9) rotate(-90)">(400)</text><text transform="translate(218.5,204.5) rotate(-90)">(311)</text><text transform="translate(235.6,258.2) rotate(-90)">(102)</text><text transform="translate(247.5,267.2) rotate(-90)">(201)</text><text transform="translate(266.4,241) rotate(-90)">(411)</text><text transform="translate(294.6,209.6) rotate(-90)">(600)</text><text transform="translate(310.1,237) rotate(-90)">(511)</text><text transform="translate(330.6,246.7) rotate(-90)">(402)</text><text transform="translate(346.8,254.5) rotate(-90)">(420)</text><text transform="translate(373.7,274) rotate(-90)">(502)</text><text transform="translate(398.3,270.5) rotate(-90)">(122)</text><text transform="translate(418.5,266.6) rotate(-90)">(602)</text><text transform="translate(430.4,241.6) rotate(-90)">(203)</text><text transform="translate(437.8,275.8) rotate(-90)">(800)</text><text transform="translate(451.6,272.6) rotate(-90)">(113)</text><text transform="translate(467.9,272.6) rotate(-90)">(031)</text><text transform="translate(483.9,272.6) rotate(-90)">(702)</text><text transform="translate(511.7,273.9) rotate(-90)">(331)</text><text transform="translate(528.7,269.5) rotate(-90)">(902)</text></g>
<g stroke="#000" stroke-width="2.5" stroke-linecap="butt"><line x1="76.7" y1="334.20" x2="84.7" y2="334.20"/><line x1="76.7" y1="253.50" x2="84.7" y2="253.50"/><line x1="76.7" y1="172.80" x2="84.7" y2="172.80"/><line x1="76.7" y1="92.10" x2="84.7" y2="92.10"/><line x1="76.7" y1="11.40" x2="84.7" y2="11.40"/><line x1="76.7" y1="293.85" x2="81.7" y2="293.85"/><line x1="76.7" y1="213.15" x2="81.7" y2="213.15"/><line x1="76.7" y1="132.45" x2="81.7" y2="132.45"/><line x1="76.7" y1="51.75" x2="81.7" y2="51.75"/><line x1="76.70" y1="374.8" x2="76.70" y2="382.8"/><line x1="153.65" y1="374.8" x2="153.65" y2="382.8"/><line x1="230.60" y1="374.8" x2="230.60" y2="382.8"/><line x1="307.55" y1="374.8" x2="307.55" y2="382.8"/><line x1="384.50" y1="374.8" x2="384.50" y2="382.8"/><line x1="461.45" y1="374.8" x2="461.45" y2="382.8"/><line x1="538.40" y1="374.8" x2="538.40" y2="382.8"/><line x1="115.18" y1="374.8" x2="115.18" y2="379.3"/><line x1="192.12" y1="374.8" x2="192.12" y2="379.3"/><line x1="269.07" y1="374.8" x2="269.07" y2="379.3"/><line x1="346.02" y1="374.8" x2="346.02" y2="379.3"/><line x1="422.97" y1="374.8" x2="422.97" y2="379.3"/><line x1="499.93" y1="374.8" x2="499.93" y2="379.3"/></g>
<rect x="76.7" y="11.3" width="461.70" height="363.50" fill="none" stroke="#000" stroke-width="2.6"/>
<rect x="333.3" y="20.7" width="205.2" height="24.9" fill="#fff" stroke="#333" stroke-width="0.9"/>
<line x1="335.3" y1="33.1" x2="376.7" y2="33.1" stroke="#000" stroke-width="1.6"/>
<text x="382.3" y="39.8" font-size="18.5">SnSe Nanoparticles</text>
<text x="343.4" y="329.2" font-size="18.5" fill="#0000ff">JCPDS No.:00-032-1382</text>
<g font-size="18.7" text-anchor="end"><text x="69.4" y="339.60">0</text><text x="69.4" y="258.90">500</text><text x="69.4" y="178.20">1000</text><text x="69.4" y="97.50">1500</text><text x="69.4" y="16.80">2000</text></g>
<g font-size="18.7" text-anchor="middle"><text x="76.70" y="401.4">20</text><text x="153.65" y="401.4">30</text><text x="230.60" y="401.4">40</text><text x="307.55" y="401.4">50</text><text x="384.50" y="401.4">60</text><text x="461.45" y="401.4">70</text><text x="538.40" y="401.4">80</text></g>
<text x="307.6" y="431.6" font-size="23.7" text-anchor="middle">2 Theta (degree)</text>
<text transform="translate(19,209) rotate(-90)" font-size="23.6" text-anchor="middle">Intensity (a.u)</text>
</svg>
</body></html>
